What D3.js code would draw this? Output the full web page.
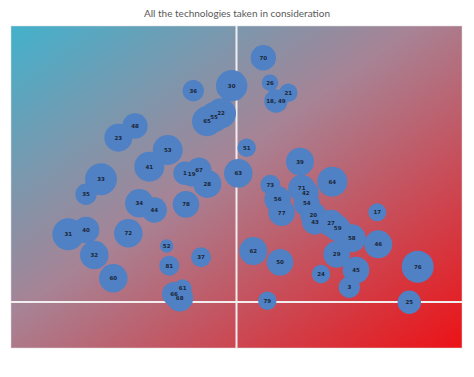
<!DOCTYPE html>
<html>
<head>
<meta charset="utf-8">
<script src="https://cdn.jsdelivr.net/npm/d3@7"></script>
<style>
  html, body { margin: 0; padding: 0; background: #ffffff; }
  svg { display: block; }
</style>
</head>
<body>
<svg id="chart" width="474" height="377"></svg>
<script>
const title = "All the technologies taken in consideration";
const labels = ["70","30","36","26","21","18, 49","22","55","65","23","48","51","53","41","63","39","33","35","67","19","1","28","64","73","34","44","78","56","77","71","42","54","20","43","27","59","58","17","31","40","72","32","60","52","81","37","61","66","68","62","50","29","46","76","24","45","3","79","25"];
const xValues = [0.357,-0.064,-0.575,0.446,0.689,0.525,-0.206,-0.299,-0.392,-1.572,-1.350,0.136,-0.915,-1.160,0.024,0.845,-1.803,-2.002,-0.499,-0.596,-0.685,-0.388,1.274,0.450,-1.293,-1.094,-0.672,0.548,0.601,0.867,0.921,0.934,1.022,1.044,1.257,1.346,1.533,1.873,-2.238,-2.002,-1.439,-1.892,-1.639,-0.929,-0.894,-0.472,-0.716,-0.831,-0.756,0.223,0.579,1.333,1.886,2.411,1.124,1.590,1.501,0.410,2.299];
const yValues = [2.655,2.351,2.297,2.384,2.275,2.185,2.051,2.008,1.965,1.786,1.913,1.677,1.652,1.471,1.399,1.525,1.334,1.171,1.435,1.391,1.399,1.283,1.308,1.275,1.073,1.000,1.062,1.116,0.971,1.236,1.182,1.073,0.946,0.873,0.855,0.801,0.692,0.975,0.736,0.783,0.747,0.511,0.258,0.609,0.395,0.486,0.149,0.087,0.043,0.554,0.432,0.518,0.627,0.384,0.304,0.348,0.160,0.014,-0.003];
const sizes = [16.1,24.6,11.4,6.9,8.6,13.7,22.5,22.5,22.5,19.6,16.1,8.6,22.5,22.5,20.4,19.6,25.6,11.4,15.6,15.6,13.7,19.6,22.5,10,20.4,16.1,17.7,17.7,17.7,18.2,16.9,16.9,16.9,16.9,18.2,16.9,19.6,8.1,25.6,17.7,20.4,20.4,20.4,4.5,10,10,8.1,14.4,18.2,19.6,17.7,17.7,19.6,25.6,8.6,17.7,11.4,8.6,13.7];

const svg = d3.select("#chart");
const plot = { left: 11, right: 462, top: 26, bottom: 348 };

const x = d3.scaleLinear().domain([-3, 3]).range([plot.left, plot.right]);
const y = d3.scaleLinear().domain([-0.5, 3]).range([plot.bottom, plot.top]);
const r = d3.scaleSqrt().domain([0, 30]).range([0, 17.3]);

const data = labels.map((l, i) => ({ label: l, x: xValues[i], y: yValues[i], s: sizes[i] }));

const defs = svg.append("defs");
const grad = defs.append("linearGradient").attr("id", "bg")
  .attr("x1", "0").attr("y1", "0").attr("x2", "1").attr("y2", "1");
grad.append("stop").attr("offset", "0").attr("stop-color", "#43b1cc");
grad.append("stop").attr("offset", "0.45").attr("stop-color", "#a78395");
grad.append("stop").attr("offset", "1").attr("stop-color", "#ec1216");

svg.append("text")
  .attr("x", 237).attr("y", 17)
  .attr("text-anchor", "middle")
  .attr("font-family", "Lato, 'Open Sans', sans-serif")
  .attr("font-size", "10px")
  .attr("fill", "#595959")
  .text(title);

svg.append("rect")
  .attr("x", plot.left).attr("y", plot.top)
  .attr("width", plot.right - plot.left).attr("height", plot.bottom - plot.top)
  .attr("fill", "url(#bg)")
  .attr("stroke", "#d9d9d9").attr("stroke-width", 0.5);

svg.append("line")
  .attr("x1", x(0)).attr("x2", x(0))
  .attr("y1", plot.top).attr("y2", plot.bottom)
  .attr("stroke", "#f2eef0").attr("stroke-width", 2);
svg.append("line")
  .attr("x1", plot.left).attr("x2", plot.right)
  .attr("y1", y(0)).attr("y2", y(0))
  .attr("stroke", "#f2eef0").attr("stroke-width", 2);

svg.append("g").selectAll("circle").data(data).join("circle")
  .attr("cx", d => x(d.x)).attr("cy", d => y(d.y))
  .attr("r", d => r(d.s))
  .attr("fill", "#4f81c4");

svg.append("g").selectAll("text").data(data).join("text")
  .attr("x", d => x(d.x)).attr("y", d => y(d.y))
  .attr("dy", "0.35em")
  .attr("text-anchor", "middle")
  .attr("font-family", "'DejaVu Sans', sans-serif")
  .attr("font-size", "5.5px")
  .attr("font-weight", "bold")
  .attr("fill", "#1b2638")
  .text(d => d.label);
</script>
</body>
</html>
